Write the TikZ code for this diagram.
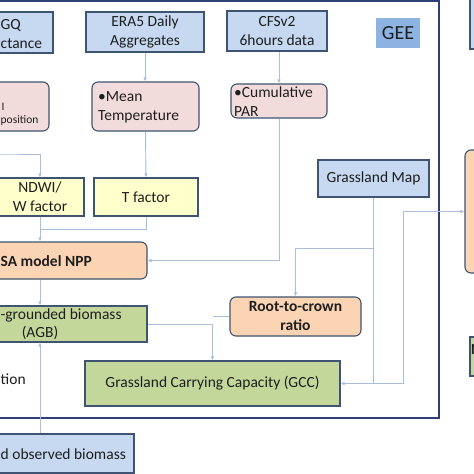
\documentclass[tikz,border=0pt]{standalone}
\usepackage{fontspec}
\setmainfont{Carlito}
\usetikzlibrary{arrows.meta,calc}
\definecolor{bluefill}{HTML}{C6D9F1}
\definecolor{geefill}{HTML}{8DB3E2}
\definecolor{pinkfill}{HTML}{F2DCDB}
\definecolor{yellowfill}{HTML}{FFFFCC}
\definecolor{orangefill}{HTML}{FBD4B4}
\definecolor{greenfill}{HTML}{C4D79B}
\definecolor{boxline}{HTML}{3F5372}
\definecolor{connc}{HTML}{A9BEDA}
\definecolor{framec}{HTML}{2E3F78}
\definecolor{textc}{HTML}{1E1E1E}
\newcommand\myfs{\fontsize{15.5}{19}\selectfont}
\newcommand\mysmallfs{\fontsize{11.5}{13.5}\selectfont}
\tikzset{
  basebox/.style={draw=boxline, line width=1.1pt, inner sep=0pt, align=center, font=\myfs, text=textc},
  bluebox/.style={basebox, fill=bluefill},
  geebox/.style={draw=none, fill=geefill, inner sep=0pt, font=\fontsize{20}{24}\selectfont, text=textc},
  pinkbox/.style={basebox, fill=pinkfill, rounded corners=6pt},
  yellowbox/.style={basebox, fill=yellowfill},
  orangebox/.style={basebox, fill=orangefill, rounded corners=6pt, font=\myfs\bfseries},
  greenbox/.style={basebox, fill=greenfill},
  txt/.style={inner sep=0pt, font=\myfs, text=textc},
  conn/.style={draw=connc, line width=0.9pt},
  arr/.style={conn, -{Latex[length=4pt,width=3.5pt]}},
  framebox/.style={draw=framec, line width=1.4pt}
}
\begin{document}
\begin{tikzpicture}[x=1pt,y=-1pt]
\useasboundingbox (0,0) rectangle (474,474);
\clip (0,0) rectangle (474,474);
\fill[white] (0,0) rectangle (474,474);

% GEE frame
\draw[framebox] (-20,1) rectangle (439,418);

% top row
\node[bluebox, minimum width=113pt, minimum height=41pt] (gq) at (-3.5,32.5) {};
\node[txt, anchor=west, align=left] (gqt) at (0.5,34) {GQ\\ctance};
\node[bluebox, minimum width=118pt, minimum height=40pt] (era5) at (145,32) {ERA5 Daily\\Aggregates};
\node[bluebox, minimum width=100pt, minimum height=40pt] (cfs) at (277,31) {CFSv2\\6hours data};
\node[geebox, minimum width=44pt, minimum height=30pt] (gee) at (398,33) {GEE};
\node[bluebox, minimum width=60pt, minimum height=56pt] (tr) at (500,21) {};

% pink row
\node[pinkbox, minimum width=109pt, minimum height=49pt] (pl) at (-5.5,106.5) {};
\node[txt, anchor=west, font=\mysmallfs] (plt1) at (1.5,107) {I};
\node[txt, anchor=west, font=\mysmallfs] (plt2) at (0.5,120) {position};
\node[pinkbox, minimum width=107pt, minimum height=49pt] (mt) at (145.5,106.5) {};
\node[txt, anchor=west, align=left] (mtt) at (98,107.5) {\textbullet Mean\\Temperature};
\node[pinkbox, minimum width=96pt, minimum height=34pt] (par) at (279,101) {};
\node[txt, anchor=west, align=left] (part) at (234,102) {\textbullet Cumulative\\PAR};

% factors
\node[yellowbox, minimum width=88pt, minimum height=38pt] (ndwi) at (40,197) {NDWI/\\W factor};
\node[yellowbox, minimum width=104pt, minimum height=38pt] (tf) at (146,197) {T factor};

% grassland map
\node[bluebox, minimum width=111pt, minimum height=37pt] (gmap) at (373.5,178.5) {Grassland Map};

% CASA
\node[orangebox, minimum width=207pt, minimum height=37pt] (casa) at (43.5,260.5) {};
\node[txt, anchor=west, font=\myfs\bfseries] (casat) at (0.5,261) {SA model NPP};

% AGB
\node[greenbox, minimum width=227pt, minimum height=36pt] (agb) at (33.5,324) {};
\node[txt, anchor=west] (agbt1) at (0.5,315) {-grounded biomass};
\node[txt] (agbt2) at (40,333) {(AGB)};

% root-to-crown
\node[orangebox, minimum width=131pt, minimum height=39pt] (root) at (295.5,316.5) {Root-to-crown\\ratio};

% validation text
\node[txt, anchor=west] (tion) at (0.5,379) {tion};

% GCC
\node[greenbox, minimum width=255pt, minimum height=45pt] (gcc) at (212.5,383.5) {Grassland Carrying Capacity (GCC)};

% field observed biomass
\node[bluebox, minimum width=194pt, minimum height=39pt] (field) at (37,453.5) {};
\node[txt, anchor=west] (fieldt) at (0.5,454) {d observed biomass};

% right side boxes
\node[orangebox, minimum width=65pt, minimum height=123pt] (ro) at (497.5,211.5) {};
\node[greenbox, minimum width=60pt, minimum height=39pt] (rg) at (500,356.5) {};
\node[txt, anchor=west, font=\myfs\bfseries] (rgt) at (471,349) {N};

% helper coordinates
\coordinate (lt1) at (0,154);
\coordinate (j1) at (40,229);
\coordinate (j2) at (373.5,248);
\coordinate (j3) at (403,383.5);

% connectors
\draw[arr] (era5.south) -- (era5.south |- mt.north);
\draw[arr] (par.north |- cfs.south) -- (par.north);
\draw[arr] (mt.south) -- (tf.north);
\draw[arr] (pl.south) |- (lt1) -| (ndwi.north);
\draw[arr] (ndwi.south) -- (ndwi.south |- casa.north);
\draw[conn] (tf.south) |- (j1);
\draw[arr] (par.south) |- (casa.east);
\draw[arr] (ndwi.south |- casa.south) -- (ndwi.south |- agb.north);
\draw[arr] (agb.east) -| (gcc.north);
\draw[conn] (root.west) -- (root.west -| gcc.north);
\draw[arr] (ndwi.south |- field.north) -- (ndwi.south |- agb.south);
\draw[arr] (gmap.south) |- (j2) -| (root.north);
\draw[arr] (j2) |- (gcc.east);
\draw[arr] (j3 -| gmap.south) -- (j3) |- (ro.west);
\end{tikzpicture}
\end{document}
